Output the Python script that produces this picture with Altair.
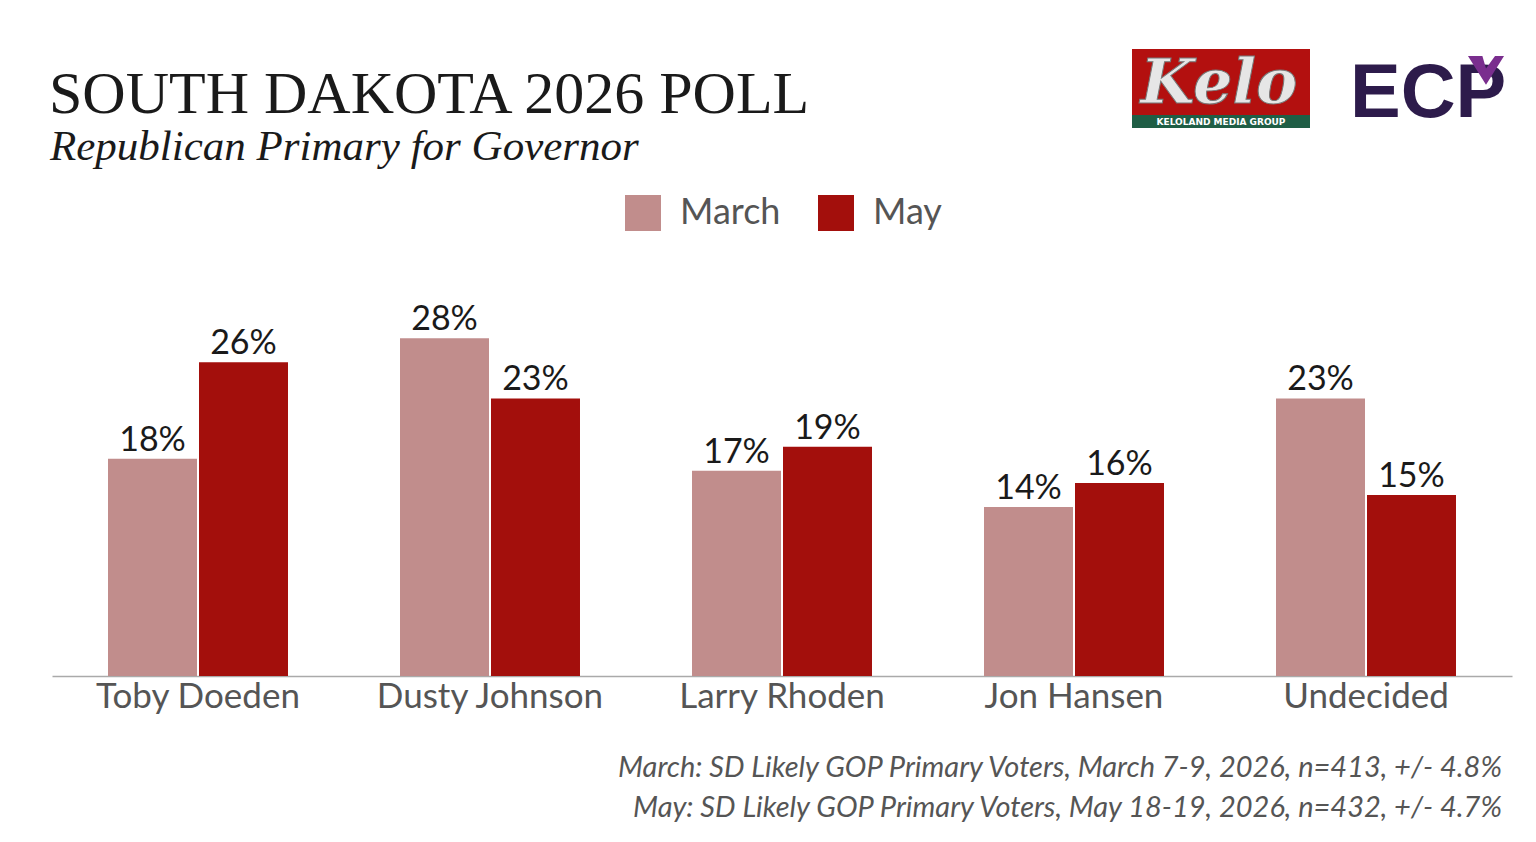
import altair as alt
import pandas as pd

candidates = ["Toby Doeden", "Dusty Johnson", "Larry Rhoden", "Jon Hansen", "Undecided"]
march = [18, 28, 17, 14, 23]
may = [26, 23, 19, 16, 15]
months = ["March", "May"]
colors = ["#C18D8C", "#A30F0C"]

title = "SOUTH DAKOTA 2026 POLL"
subtitle = "Republican Primary for Governor"
notes = [
    "March: SD Likely GOP Primary Voters, March 7-9, 2026, n=413, +/- 4.8%",
    "May: SD Likely GOP Primary Voters, May 18-19, 2026, n=432, +/- 4.7%",
]

rows = []
for c, a, b in zip(candidates, march, may):
    rows.append({"Candidate": c, "Month": "March", "Value": a, "Label": f"{a}%"})
    rows.append({"Candidate": c, "Month": "May", "Value": b, "Label": f"{b}%"})
df = pd.DataFrame(rows)

W, H = 1460, 362
PL, PT = 52, 314

x = alt.X("Candidate:N", sort=candidates, title=None,
          scale=alt.Scale(paddingInner=0.3836, paddingOuter=0.1918),
          axis=alt.Axis(labelFontSize=35, labelColor="#555555", labelFont="Lato",
                        labelPadding=3, ticks=False, domainColor="#aaaaaa",
                        domainWidth=1.5, labelAngle=0, labelLimit=0))
xo = alt.XOffset("Month:N", sort=months, scale=alt.Scale(paddingInner=0.022, paddingOuter=0))
y = alt.Y("Value:Q", scale=alt.Scale(domain=[0, 30]), axis=None)

base = alt.Chart(df)
bars = base.mark_bar().encode(
    x=x, xOffset=xo, y=y,
    color=alt.Color("Month:N", sort=months,
                    scale=alt.Scale(domain=months, range=colors),
                    legend=alt.Legend(title=None, orient="none", direction="horizontal",
                                      legendX=573, legendY=-119, symbolType="square",
                                      symbolSize=1296, symbolStrokeWidth=0,
                                      symbolOpacity=1,
                                      labelFontSize=36, labelFont="Lato",
                                      labelColor="#555555", labelOffset=19,
                                      columnPadding=37)),
)
labels = base.mark_text(baseline="alphabetic", dy=-8, fontSize=34, font="Lato",
                        color="#1a1a1a").encode(
    x=x, xOffset=xo, y=y, text="Label:N")

def txt(text, xv, yv, **kw):
    return alt.Chart(pd.DataFrame({"t": [text]})).mark_text(**kw).encode(
        x=alt.value(xv), y=alt.value(yv), text="t:N")

t1 = txt(title, -3, 113 - PT, align="left", baseline="alphabetic",
         font="Liberation Serif", fontSize=60, color="#1a1a1a")
t2 = txt(subtitle, -2, 160 - PT, align="left", baseline="alphabetic",
         font="Liberation Serif", fontStyle="italic", fontSize=43, color="#1a1a1a")
n1 = txt(notes[0], 1502 - PL, 777 - PT, align="right", baseline="alphabetic",
         font="Lato", fontStyle="italic", fontSize=29, color="#555555")
n2 = txt(notes[1], 1502 - PL, 817 - PT, align="right", baseline="alphabetic",
         font="Lato", fontStyle="italic", fontSize=29, color="#555555")

def rect(x1, x2, y1, y2, color):
    return alt.Chart(pd.DataFrame({"a": [0]})).mark_rect(color=color).encode(
        x=alt.value(x1 - PL), x2=alt.value(x2 - PL),
        y=alt.value(y1 - PT), y2=alt.value(y2 - PT))

kelo_red = rect(1132, 1310, 49, 115, "#B3100F")
kelo_green = rect(1132, 1310, 115, 128, "#1F5E45")
kelo_sub = txt("KELOLAND MEDIA GROUP", 1221 - PL, 122 - PT, align="center",
               baseline="middle", font="DejaVu Sans", fontWeight="bold",
               fontSize=9, color="white")
kelo_word = txt("Kelo", 1219 - PL, 103 - PT, align="center", baseline="alphabetic",
                font="DejaVu Serif", fontStyle="italic", fontWeight="bold",
                fontSize=62, color="#e6e6e6", stroke="#777777", strokeWidth=1)
ecp = txt("ECP", 1350 - PL, 117 - PT, align="left", baseline="alphabetic",
          font="Liberation Sans", fontWeight="bold", fontSize=76, color="#2D1B4B")
check = alt.Chart(pd.DataFrame({"a": [0]})).mark_point(
    shape="M-1,-1L-0.2,-1L0,-0.3L0.5,-1L1,-1L0,0.6Z", filled=True, size=1300,
    color="#7A2E8E", opacity=1).encode(
    x=alt.value(1486 - PL), y=alt.value(74 - PT))

chart = alt.layer(
    bars, labels, t1, t2, n1, n2, kelo_red, kelo_green, kelo_sub, kelo_word, ecp, check
).properties(
    width=W, height=H,
    autosize=alt.AutoSizeParams(type="none"),
    padding={"left": PL, "top": PT, "right": 1536 - PL - W, "bottom": 842 - PT - H},
    background="white",
).configure_view(stroke=None)

chart.save("out.html", embed_options={"renderer": "svg", "actions": False})
